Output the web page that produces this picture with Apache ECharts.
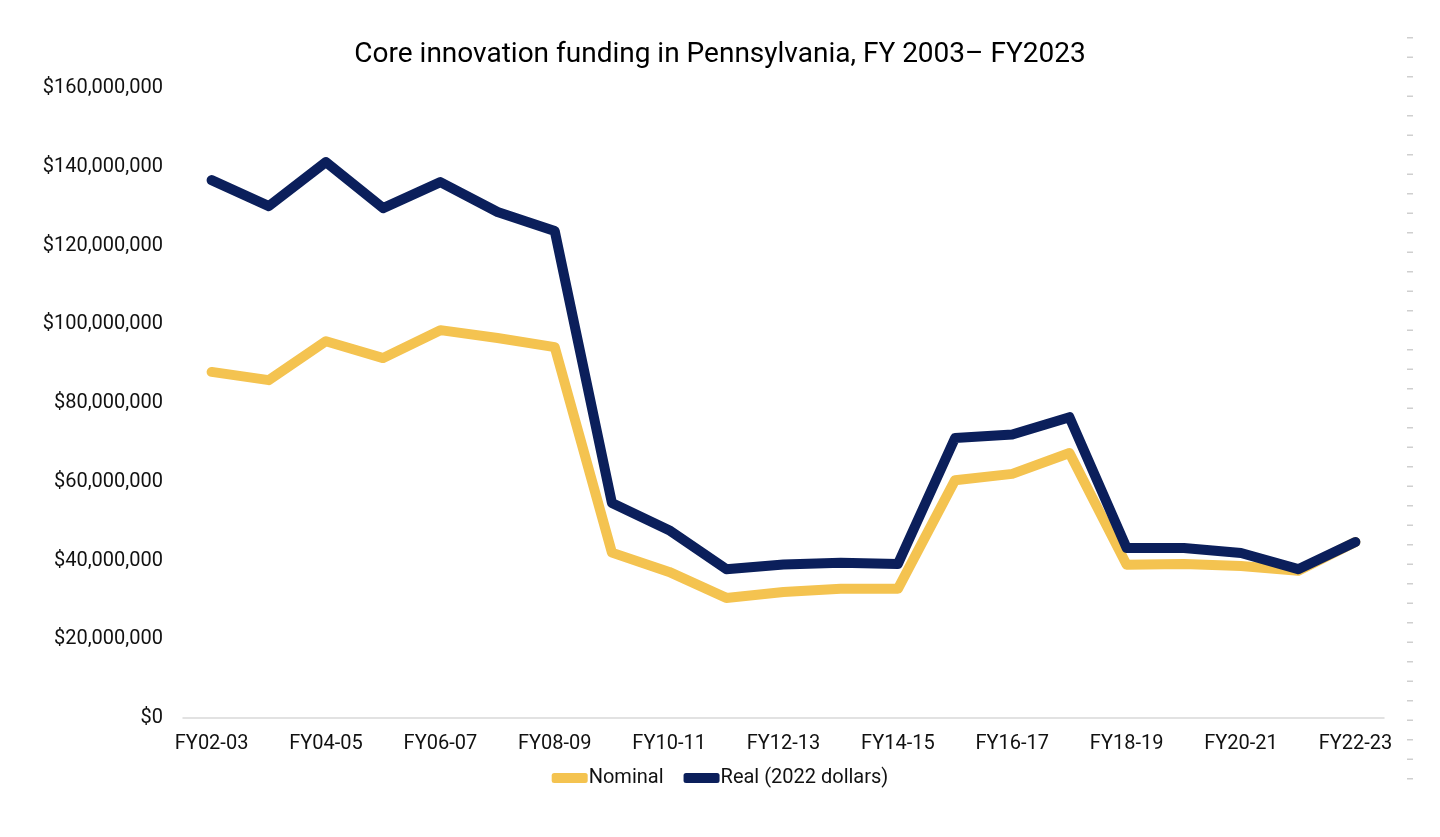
<!DOCTYPE html>
<html>
<head>
	<meta charset="utf-8">
	<title>Core innovation funding in Pennsylvania</title>
	<script src="https://cdn.jsdelivr.net/npm/echarts@6/dist/echarts.min.js"></script>
	<style type="text/css">
		html, body { margin: 0; padding: 0; background: #fff; }
		#main { width: 1440px; height: 837px; }
	</style>
</head>
<body>
	<div id="main"></div>
	<script type="text/javascript">
		var years = ['FY02-03','FY03-04','FY04-05','FY05-06','FY06-07','FY07-08','FY08-09',
			'FY09-10','FY10-11','FY11-12','FY12-13','FY13-14','FY14-15','FY15-16',
			'FY16-17','FY17-18','FY18-19','FY19-20','FY20-21','FY21-22','FY22-23'];
		var nominal = [87.9, 85.8, 95.7, 91.4, 98.5, 96.5, 94.2,
			42.0, 37.1, 30.5, 32.0, 32.8, 32.8, 60.4,
			62.0, 67.3, 38.9, 39.1, 38.6, 37.4, 44.7];
		var real = [136.6, 130.0, 141.2, 129.5, 136.1, 128.5, 123.7,
			54.6, 47.7, 37.8, 39.0, 39.4, 39.1, 71.1,
			72.0, 76.4, 43.2, 43.2, 41.9, 37.8, 44.7];
		var M = 1000000;

		var myChart = echarts.init(document.getElementById('main'));
		var option = {
			backgroundColor: '#fff',
			title: {
				text: 'Core innovation funding in Pennsylvania, FY 2003\u2013 FY2023',
				left: 'center',
				top: 36,
				textStyle: { fontFamily: 'Roboto', fontSize: 28, fontWeight: 'normal', color: '#000' }
			},
			legend: {
				bottom: 44,
				left: 'center',
				itemWidth: 36,
				itemHeight: 10,
				itemGap: 20,
				icon: 'roundRect',
				textStyle: { fontFamily: 'Roboto', fontSize: 20, color: '#111', padding: [0, 0, 0, -4] },
				data: ['Nominal', 'Real (2022 dollars)']
			},
			grid: { left: 183, right: 56, top: 88, bottom: 119 },
			xAxis: {
				type: 'category',
				data: years,
				boundaryGap: true,
				axisLine: { lineStyle: { color: '#d9d9d9', width: 1.5 } },
				axisTick: { show: false },
				axisLabel: { interval: 1, margin: 16, fontFamily: 'Roboto', fontSize: 20, color: '#111' }
			},
			yAxis: {
				type: 'value',
				min: 0,
				max: 160 * M,
				interval: 20 * M,
				splitLine: { show: false },
				axisLine: { show: false },
				axisTick: { show: false },
				axisLabel: {
					margin: 20,
					fontFamily: 'Roboto', fontSize: 20, color: '#111',
					formatter: function (v) { return '$' + v.toLocaleString('en-US'); }
				}
			},
			graphic: [{
				type: 'line',
				silent: true,
				shape: { x1: 1410, y1: 37, x2: 1410, y2: 782 },
				style: { stroke: '#cfcfcf', lineWidth: 6, lineDash: [1.5, 18] }
			}],
			series: [{
				name: 'Nominal',
				type: 'line',
				symbol: 'none',
				color: '#F4C350',
				lineStyle: { width: 10, cap: 'round', join: 'round' },
				data: nominal.map(function (v) { return v * M; })
			}, {
				name: 'Real (2022 dollars)',
				type: 'line',
				symbol: 'none',
				color: '#0B1F5B',
				lineStyle: { width: 10, cap: 'round', join: 'round' },
				data: real.map(function (v) { return v * M; })
			}]
		};
		myChart.setOption(option);
	</script>
</body>
</html>
